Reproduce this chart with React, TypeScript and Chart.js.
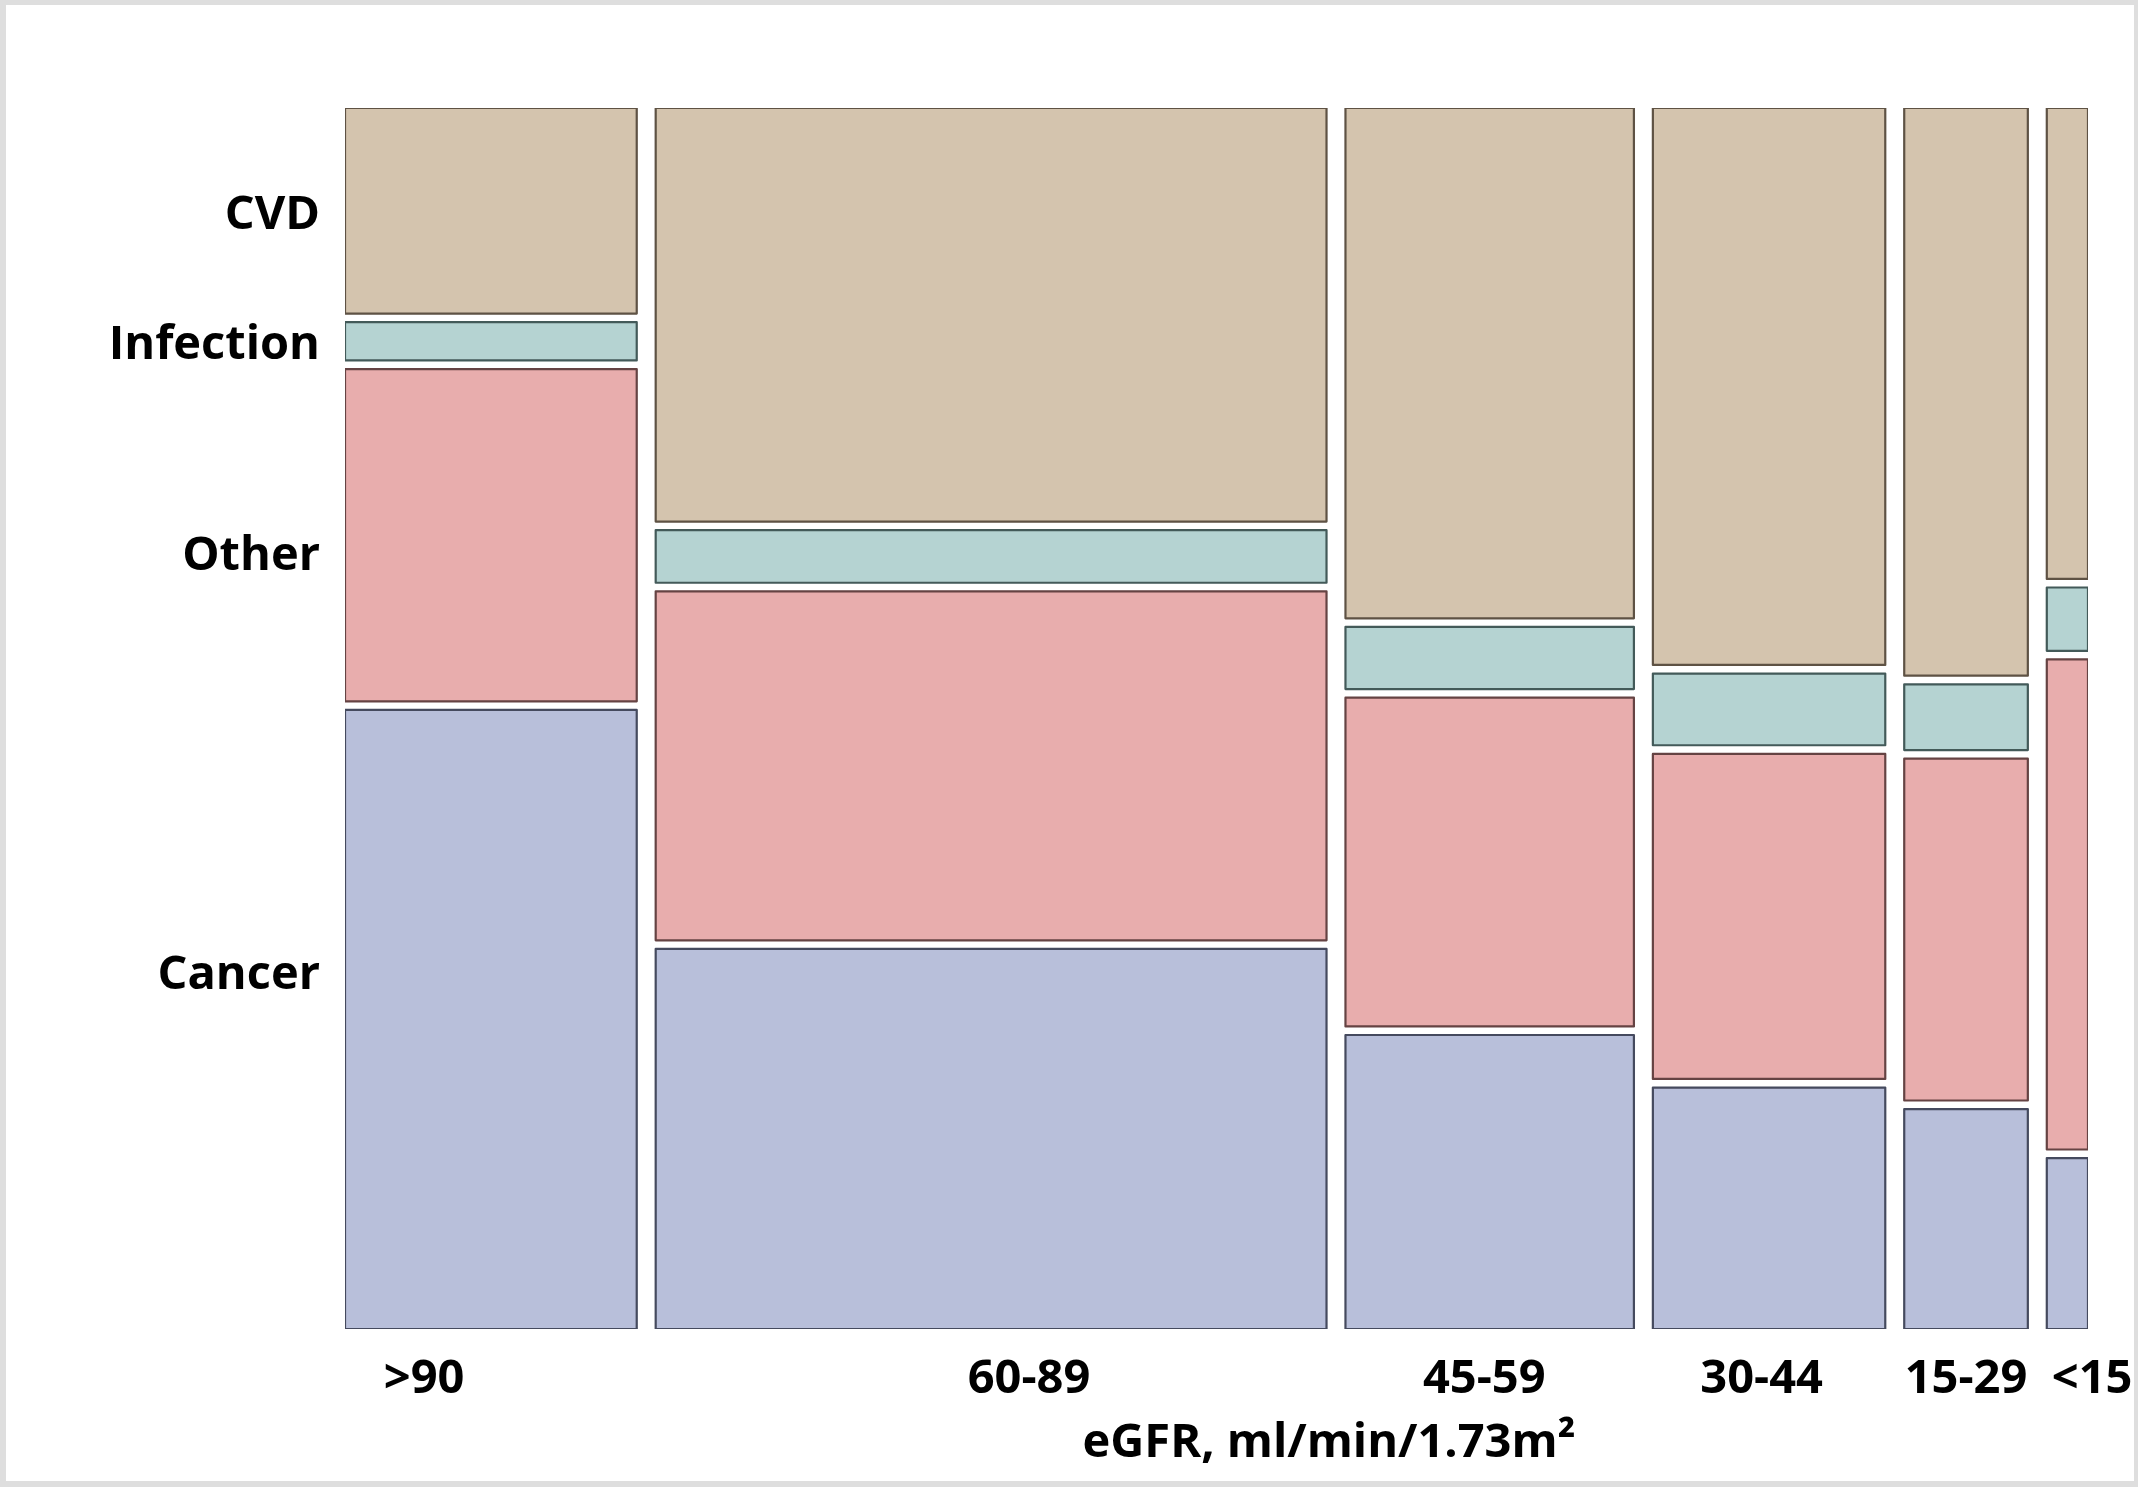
import React, { useEffect, useRef } from "react";
import { Chart, registerables } from "chart.js";

Chart.register(...registerables);

// ---- data ----
const categories = [">90", "60-89", "45-59", "30-44", "15-29", "<15"];
// share of deaths in each eGFR group (column widths, %)
const columnShare = [17.7, 40.7, 17.5, 14.1, 7.5, 2.5];
// cause of death share within each eGFR group (%), stacked bottom -> top
const causes = ["Cancer", "Other", "Infection", "CVD"];
const cancer = [51.8, 31.8, 24.6, 20.2, 18.4, 14.3];
const other = [27.8, 29.2, 27.5, 27.2, 28.6, 41.0];
const infection = [3.2, 4.4, 5.2, 6.0, 5.5, 5.3];
const cvd = [17.2, 34.6, 42.7, 46.6, 47.5, 39.4];
const xTitle = "eGFR, ml/min/1.73m²";

// ---- layout / style ----
const W = 2138;
const H = 1487;
const GAP_X = 1.15;
const GAP_Y = 0.72;
const X_LABEL_SHIFT = [-4.05, 2.3, -0.33, -0.45, 0, 1.5];
const Y_LABEL_SHIFT = [3.7, -1.8, -0.4, -0.4];
const X_TITLE_AT = 59.7;
const TITLE_Y = 1444;
const FONT_FAMILY = "'Open Sans', 'Noto Sans', sans-serif";
const FILLS = ["#b8bfda", "#e8adad", "#b5d3d2", "#d4c4ae"];
const BORDERS = ["#454a5e", "#654343", "#435a59", "#5e5244"];

export default function App() {
  const ref = useRef<HTMLCanvasElement>(null);

  useEffect(() => {
    const canvas = ref.current;
    if (!canvas) return;
    const series = [cancer, other, infection, cvd];
    const datasets: any[] = [];
    const xTicks: number[] = [];
    let x0 = 0;
    categories.forEach((cat, c) => {
      const x1 = x0 + columnShare[c];
      xTicks.push(x0 + columnShare[c] / 2 + X_LABEL_SHIFT[c]);
      let y0 = 0;
      series.forEach((vals, k) => {
        const y1 = y0 + vals[c];
        datasets.push({
          label: `${causes[k]} ${cat}`,
          data: [
            { x: x0, y: y0 },
            { x: x1, y: y0 },
            { x: x1, y: y1 },
            { x: x0, y: y1 },
            { x: x0, y: y0 },
          ],
          showLine: true,
          fill: "shape",
          backgroundColor: FILLS[k],
          borderColor: BORDERS[k],
          borderWidth: 2.2,
          borderJoinStyle: "round",
          pointRadius: 0,
          pointHoverRadius: 0,
          tension: 0,
        });
        y0 = y1 + GAP_Y;
      });
      x0 = x1 + GAP_X;
    });

    const yTicks: number[] = [];
    let yb = 0;
    series.forEach((vals, k) => {
      yTicks.push(yb + vals[0] / 2 + Y_LABEL_SHIFT[k]);
      yb += vals[0] + GAP_Y;
    });

    const titlePlugin = {
      id: "xTitleText",
      afterDraw(chart: any) {
        const { ctx } = chart;
        ctx.save();
        ctx.font = `bold 47px ${FONT_FAMILY}`;
        ctx.fillStyle = "#000";
        ctx.textAlign = "center";
        ctx.textBaseline = "middle";
        ctx.fillText(xTitle, chart.scales.x.getPixelForValue(X_TITLE_AT), TITLE_Y);
        ctx.restore();
      },
    };

    const chart = new Chart(canvas, {
      type: "scatter",
      data: { datasets },
      plugins: [titlePlugin],
      options: {
        animation: false,
        responsive: false,
        devicePixelRatio: 1,
        events: [],
        layout: { padding: { top: 108, right: 50, left: 0, bottom: 0 } },
        plugins: {
          legend: { display: false },
          tooltip: { enabled: false },
        },
        scales: {
          x: {
            type: "linear",
            min: 0,
            max: 100 + GAP_X * (categories.length - 1),
            grid: { display: false, drawTicks: false },
            border: { display: false },
            afterFit(scale: any) {
              scale.height = H - 1329;
              scale.paddingLeft = 0;
              scale.paddingRight = 0;
            },
            afterBuildTicks(scale: any) {
              scale.ticks = xTicks.map((v) => ({ value: v }));
            },
            ticks: {
              autoSkip: false,
              maxRotation: 0,
              minRotation: 0,
              padding: 22,
              color: "#000",
              font: { family: FONT_FAMILY, weight: "bold", size: 47 },
              callback: (_v: any, i: number) => categories[i],
            },
          },
          y: {
            type: "linear",
            min: 0,
            max: 100 + GAP_Y * (causes.length - 1),
            grid: { display: false, drawTicks: false },
            border: { display: false },
            afterFit(scale: any) {
              scale.width = 345;
              scale.paddingTop = 0;
              scale.paddingBottom = 0;
            },
            afterBuildTicks(scale: any) {
              scale.ticks = yTicks.map((v) => ({ value: v }));
            },
            ticks: {
              autoSkip: false,
              padding: 25,
              color: "#000",
              font: { family: FONT_FAMILY, weight: "bold", size: 47 },
              callback: (_v: any, i: number) => causes[i],
            },
          },
        },
      } as any,
    });
    return () => chart.destroy();
  }, []);

  return (
    <div style={{ position: "absolute", left: 0, top: 0, width: W, height: H, background: "#fff", overflow: "hidden" }}>
      <div
        style={{
          position: "absolute",
          left: 0,
          top: 0,
          width: W,
          height: H,
          boxSizing: "border-box",
          borderStyle: "solid",
          borderColor: "#dedede",
          borderWidth: "5px 4px 6px 6px",
        }}
      />
      <canvas ref={ref} width={W} height={H} style={{ position: "absolute", left: 0, top: 0, width: W, height: H }} />
    </div>
  );
}
